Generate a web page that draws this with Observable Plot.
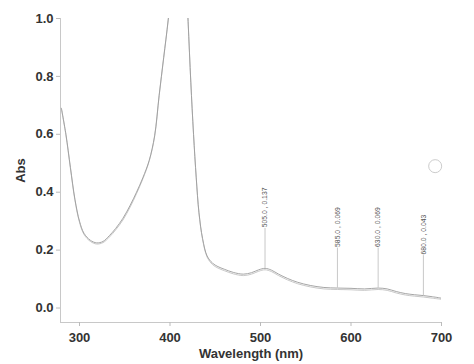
<!DOCTYPE html>
<html><head><meta charset="utf-8">
<script src="https://cdn.jsdelivr.net/npm/d3@7"></script>
<script src="https://cdn.jsdelivr.net/npm/@observablehq/plot@0.6"></script>
<style>body{margin:0;background:#fff}#chart svg{display:block}</style>
</head><body><div id="chart"></div>
<script>
const wavelengths = [280,285,290,295,300,305,312,319,326,333,340,348,356,363,370,377,383,388,393,398,403,408,413,417,420,423,426,429,432,436,441,447,453,460,470,481,490,498,505,512,520,530,541,555,570,585,600,615,630,640,650,660,670,680,690,700];
const absA = [0.690,0.600,0.485,0.375,0.300,0.258,0.234,0.225,0.230,0.250,0.275,0.310,0.355,0.400,0.450,0.510,0.595,0.735,0.865,0.995,1.15,1.30,1.35,1.20,0.990,0.780,0.600,0.450,0.330,0.240,0.180,0.155,0.143,0.134,0.123,0.117,0.122,0.132,0.137,0.131,0.117,0.102,0.089,0.078,0.071,0.069,0.068,0.066,0.069,0.066,0.057,0.050,0.046,0.043,0.039,0.034];
const absB = [0.688,0.597,0.481,0.371,0.296,0.254,0.230,0.221,0.226,0.245,0.270,0.304,0.349,0.395,0.446,0.507,0.592,0.733,0.863,0.994,1.15,1.30,1.35,1.20,0.990,0.780,0.600,0.449,0.328,0.237,0.176,0.150,0.138,0.129,0.118,0.112,0.117,0.127,0.132,0.126,0.112,0.097,0.084,0.073,0.066,0.064,0.063,0.061,0.064,0.061,0.052,0.045,0.041,0.038,0.034,0.030];
const peakWavelengths = [505, 585, 630, 680];
const peakAbs = [0.137, 0.069, 0.069, 0.043];
const xTicks = [300, 400, 500, 600, 700];
const yTicks = [0.0, 0.2, 0.4, 0.6, 0.8, 1.0];
const ringWavelength = [693];
const ringAbs = [0.49];

const seriesA = wavelengths.map((w, i) => ({w, a: absA[i]}));
const seriesB = wavelengths.map((w, i) => ({w, a: absB[i]}));
const peaks = peakWavelengths.map((w, i) => ({w, a: peakAbs[i]}));
const ring = ringWavelength.map((w, i) => ({w, a: ringAbs[i]}));

const chart = Plot.plot({
  width: 474,
  height: 364,
  marginLeft: 60,
  marginRight: 33,
  marginTop: 18,
  marginBottom: 42,
  style: {fontFamily: "'Liberation Sans', Arial, sans-serif", background: "#fff"},
  x: {domain: [279, 700]},
  y: {domain: [-0.05, 1.0]},
  marks: [
    Plot.frame({anchor: "left", stroke: "#c8c8c8"}),
    Plot.frame({anchor: "bottom", stroke: "#c8c8c8"}),
    Plot.axisX(xTicks, {tickSize: 4, stroke: "#bbb", text: null, label: null}),
    Plot.text(xTicks, {x: d => d, frameAnchor: "bottom", lineAnchor: "middle", dy: 15, fontSize: 13, fontWeight: "bold", fill: "#333", text: d => String(d)}),
    Plot.axisY(yTicks, {tickSize: 4, tickPadding: 3, stroke: "#bbb", fill: "#333", fontSize: 13, fontWeight: "bold", label: null, tickFormat: d => d.toFixed(1)}),
    Plot.text(["Wavelength (nm)"], {frameAnchor: "bottom", lineAnchor: "middle", dy: 31, fontSize: 13, fontWeight: "bold", fill: "#333"}),
    Plot.text(["Abs"], {frameAnchor: "left", textAnchor: "middle", lineAnchor: "middle", dx: -40, rotate: -90, fontSize: 13, fontWeight: "bold", fill: "#333"}),
    Plot.line(seriesB, {x: "w", y: "a", stroke: "#c2c2c2", strokeWidth: 0.9, curve: "catmull-rom", clip: true}),
    Plot.line(seriesA, {x: "w", y: "a", stroke: "#9c9c9c", strokeWidth: 0.9, curve: "catmull-rom", clip: true}),
    Plot.ruleX(peaks, {x: "w", y1: "a", y2: d => d.a + 0.138, stroke: "#b0b0b0", strokeWidth: 0.7}),
    Plot.text(peaks, {x: "w", y: d => d.a + 0.142, text: d => `${d.w.toFixed(1)} , ${d.a.toFixed(3)}`, rotate: -90, textAnchor: "start", lineAnchor: "middle", fontSize: 6.8, fill: "#555"}),
    Plot.dot(ring, {x: "w", y: "a", r: 6.5, stroke: "#ccc", strokeWidth: 1, fill: "none"})
  ]
});
document.getElementById("chart").appendChild(chart);
</script>
</body></html>
